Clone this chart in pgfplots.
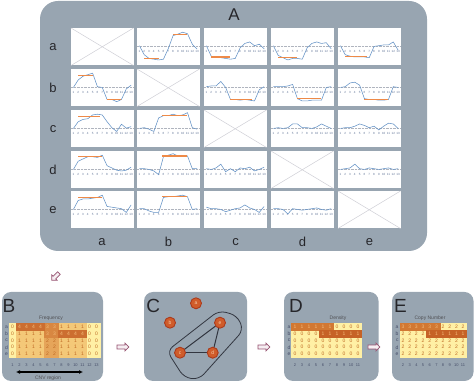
\documentclass[border=0pt]{standalone}
\usepackage{pgfplots}
\pgfplotsset{compat=1.18}
\usepackage{fontspec}
\setmainfont{Liberation Sans}
\usetikzlibrary{shapes.arrows,arrows.meta}

\definecolor{panelgray}{RGB}{152,165,177}
\definecolor{blueln}{RGB}{100,146,198}
\definecolor{orangeln}{RGB}{238,138,72}
\definecolor{basegray}{RGB}{175,180,190}
\definecolor{ticktxt}{RGB}{95,115,150}
\definecolor{xgray}{RGB}{205,205,212}
\definecolor{labtxt}{RGB}{38,38,42}
\definecolor{hmtick}{RGB}{70,78,105}
\definecolor{numdark}{RGB}{190,105,35}
\definecolor{numlight}{RGB}{242,185,120}
\definecolor{h0}{RGB}{255,240,165}
\definecolor{h1}{RGB}{244,200,120}
\definecolor{h2}{RGB}{230,165,90}
\definecolor{h3}{RGB}{216,135,65}
\definecolor{h4}{RGB}{204,110,48}
\definecolor{hor}{RGB}{210,120,50}
\definecolor{hdk}{RGB}{198,98,38}
\definecolor{nodefill}{RGB}{208,92,42}
\definecolor{noderim}{RGB}{170,58,28}
\definecolor{nodetxt}{RGB}{248,205,170}
\definecolor{arrowc}{RGB}{150,82,112}
\definecolor{arrowfill}{RGB}{246,238,242}
\definecolor{encl}{RGB}{50,54,64}

\pgfplotsset{
  /pgf/number format/assume math mode=true,
  cellax/.style={anchor=north west, scale only axis, width=62.5pt, height=37.5pt,
    xmin=0.5, xmax=13.5, ymin=-1.27, ymax=1.23,
    axis y line=none, axis x line=middle,
    x axis line style={draw=basegray, line width=0.4pt, densely dotted, -},
    xtick={1,...,13}, major tick length=0pt,
    xticklabel style={font=\fontsize{3}{3}\selectfont, text=ticktxt, inner sep=0.3pt, yshift=-3.3pt}},
  bl/.style={color=blueln, line width=0.55pt, mark=none},
  ol/.style={color=orangeln, line width=1.2pt, mark=none},
  hm/.style={anchor=north west, scale only axis, ymin=0.5, ymax=5.5, y dir=reverse,
    xmin=1.5, xmax=11.5, xtick={2,...,11},
    ytick={1,...,5}, yticklabels={a,b,c,d,e},
    axis line style={draw=none}, major tick length=0pt,
    xticklabel style={font=\fontsize{4}{4}\selectfont, text=hmtick, yshift=-2.5pt},
    yticklabel style={font=\fontsize{5}{5}\selectfont, text=hmtick, inner sep=1pt},
    clip=false},
}

% cell with a plot: #1 x, #2 top y, #3 blue coordinates, #4 orange plots
\newcommand{\cellplot}[4]{%
  \fill[white] (#1,#2) rectangle ++(62.5,-37.5);
  \begin{axis}[cellax, at={(#1pt,#2pt)}]
    \addplot[bl] coordinates {#3};
    #4
  \end{axis}}
\newcommand{\diagcell}[2]{%
  \fill[white] (#1,#2) rectangle ++(62.5,-37.5);
  \draw[xgray, line width=0.5pt] (#1,#2) -- ++(62.5,-37.5);
  \draw[xgray, line width=0.5pt] (#1,#2-37.5) -- ++(62.5,37.5);}
% heatmap cells of one value: #1 mark size, #2 fill, #3 text colour, #4 value, #5 cells (column,row)
\newcommand{\hmcls}[5]{%
  \addplot[only marks, mark=square*, mark size=#1, mark options={fill=#2, draw=#2, line width=0.2pt},
    nodes near coords={#4},
    every node near coord/.append style={anchor=center, font=\fontsize{5}{5}\selectfont, inner sep=0pt, text=#3}]
    coordinates {#5};}

\begin{document}
\begin{tikzpicture}[x=1pt,y=1pt]
\path[use as bounding box] (0,0) rectangle (474,382);

% ---------------- Panel A ----------------
\fill[panelgray, rounded corners=18pt] (40,131) rectangle (427,381);
\node[font=\fontsize{17}{17}\selectfont, text=labtxt] at (234,367.8) {A};
\foreach \l/\yy in {a/335.25, b/294.25, c/253.25, d/212.25, e/172.25}
  \node[font=\fontsize{13}{13}\selectfont, text=labtxt] at (53,\yy) {\l};
\foreach \l/\xx in {a/102, b/168.5, c/235.5, d/302.5, e/369.5}
  \node[font=\fontsize{13}{13}\selectfont, text=labtxt] at (\xx,140.3) {\l};

% row a
\diagcell{71}{354}
\cellplot{137}{354}{(1,0.05)(2,-0.55)(3,-0.8)(4,-0.85)(5,-0.9)(6,-0.85)(7,-0.15)(8,0.72)(9,0.82)(10,0.95)(11,0.85)(12,0.15)(13,-0.18)}
  {\addplot[ol] coordinates {(2,-0.78)(5,-0.78)}; \addplot[ol] coordinates {(8,0.8)(11,0.8)};}
\cellplot{204}{354}{(1,0.05)(2,-0.65)(3,-0.75)(4,-0.75)(5,-0.8)(6,-0.85)(7,-0.8)(8,-0.1)(9,0.2)(10,0.3)(11,0.05)(12,0.15)(13,-0.15)}
  {\addplot[ol] coordinates {(2,-0.7)(6,-0.7)};}
\cellplot{271}{354}{(1,0.05)(2,-0.6)(3,-0.75)(4,-0.9)(5,-0.8)(6,-0.8)(7,-0.85)(8,-0.1)(9,0.2)(10,0.3)(11,0.2)(12,0.25)(13,-0.15)}
  {\addplot[ol] coordinates {(2,-0.72)(6,-0.72)};}
\cellplot{338}{354}{(1,0.05)(2,-0.55)(3,-0.65)(4,-0.7)(5,-0.7)(6,-0.7)(7,-0.75)(8,0.0)(9,0.05)(10,0.1)(11,0.1)(12,0.3)(13,-0.25)}
  {\addplot[ol] coordinates {(2,-0.65)(6.5,-0.65)};}
% row b
\cellplot{71}{313}{(1,0.0)(2,0.5)(3,0.75)(4,0.85)(5,0.95)(6,0.05)(7,0.0)(8,-0.8)(9,-0.8)(10,-0.95)(11,-0.8)(12,-0.1)(13,0.15)}
  {\addplot[ol] coordinates {(2,0.82)(5,0.82)}; \addplot[ol] coordinates {(8,-0.82)(11,-0.82)};}
\diagcell{137}{313}
\cellplot{204}{313}{(1,0.05)(2,0.1)(3,0.1)(4,0.4)(5,0.0)(6,-0.8)(7,-0.8)(8,-0.85)(9,-0.8)(10,-0.85)(11,-0.9)(12,-0.15)(13,0.05)}
  {\addplot[ol] coordinates {(6,-0.8)(10.5,-0.8)};}
\cellplot{271}{313}{(1,0.05)(2,0.05)(3,0.05)(4,0.1)(5,0.2)(6,-0.75)(7,-0.9)(8,-0.9)(9,-0.85)(10,-0.85)(11,-0.85)(12,0.0)(13,0.05)}
  {\addplot[ol] coordinates {(6,-0.75)(11,-0.75)};}
\cellplot{338}{313}{(1,0.0)(2,0.05)(3,0.3)(4,0.35)(5,0.15)(6,-0.75)(7,-0.8)(8,-0.8)(9,-0.85)(10,-0.85)(11,-0.8)(12,0.05)(13,0.0)}
  {\addplot[ol] coordinates {(6,-0.78)(11,-0.78)};}
% row c
\cellplot{71}{272}{(1,0.0)(2,0.45)(3,0.6)(4,0.65)(5,0.9)(6,0.95)(7,0.9)(8,0.45)(9,0.05)(10,-0.2)(11,0.28)(12,0.02)(13,0.12)}
  {\addplot[ol] coordinates {(2,0.8)(6.5,0.8)};}
\cellplot{137}{272}{(1,0.0)(2,0.05)(3,-0.05)(4,-0.2)(5,0.7)(6,0.85)(7,0.85)(8,0.95)(9,0.85)(10,0.9)(11,1.05)(12,0.05)(13,-0.05)}
  {\addplot[ol] coordinates {(5.7,0.85)(11,0.85)};}
\diagcell{204}{272}
\cellplot{271}{272}{(1,0.0)(2,0.05)(3,0.0)(4,0.05)(5,0.3)(6,0.3)(7,0.05)(8,0.05)(9,0.0)(10,0.1)(11,0.3)(12,0.15)(13,0.0)}
  {}
\cellplot{338}{272}{(1,0.0)(2,0.05)(3,0.05)(4,0.15)(5,0.3)(6,0.2)(7,0.05)(8,0.15)(9,-0.1)(10,0.15)(11,0.35)(12,0.3)(13,0.0)}
  {}
% row d
\cellplot{71}{231}{(1,0.0)(2,0.55)(3,0.7)(4,0.85)(5,0.85)(6,0.8)(7,0.95)(8,0.25)(9,0.1)(10,-0.05)(11,-0.1)(12,-0.05)(13,0.15)}
  {\addplot[ol] coordinates {(2,0.85)(7,0.85)};}
\cellplot{137}{231}{(1,0.05)(2,0.05)(3,0.0)(4,-0.1)(5,-0.35)(6,0.85)(7,0.95)(8,1.05)(9,0.9)(10,0.9)(11,0.9)(12,0.05)(13,0.05)}
  {\addplot[ol] coordinates {(5.7,0.9)(11,0.9)};}
\cellplot{204}{231}{(1,0.05)(2,0.0)(3,0.1)(4,0.35)(5,-0.15)(6,0.05)(7,-0.15)(8,0.1)(9,0.05)(10,0.15)(11,-0.1)(12,0.0)(13,0.15)}
  {}
\diagcell{271}{231}
\cellplot{338}{231}{(1,0.0)(2,0.05)(3,0.1)(4,0.35)(5,0.05)(6,0.0)(7,0.1)(8,0.05)(9,0.0)(10,0.05)(11,0.1)(12,0.0)(13,0.05)}
  {}
% row e
\cellplot{71}{191}{(1,0.0)(2,0.6)(3,0.7)(4,0.7)(5,0.75)(6,0.8)(7,0.95)(8,0.2)(9,0.15)(10,0.1)(11,0.05)(12,-0.2)(13,0.3)}
  {\addplot[ol] coordinates {(2,0.8)(7,0.8)};}
\cellplot{137}{191}{(1,0.05)(2,0.05)(3,-0.1)(4,-0.2)(5,-0.2)(6,0.8)(7,0.85)(8,0.85)(9,0.9)(10,0.95)(11,0.85)(12,0.0)(13,0.05)}
  {\addplot[ol] coordinates {(5.7,0.85)(11,0.85)};}
\cellplot{204}{191}{(1,0.15)(2,0.05)(3,0.05)(4,0.0)(5,-0.15)(6,-0.05)(7,0.05)(8,0.1)(9,0.3)(10,0.1)(11,0.0)(12,-0.2)(13,0.2)}
  {}
\cellplot{271}{191}{(1,0.05)(2,0.05)(3,0.0)(4,-0.3)(5,0.05)(6,0.0)(7,-0.05)(8,0.0)(9,0.05)(10,0.1)(11,0.0)(12,-0.05)(13,0.05)}
  {}
\diagcell{338}{191}

% ---------------- bottom panel backgrounds ----------------
\fill[panelgray, rounded corners=9pt] (2,1) rectangle (103,90);
\fill[panelgray, rounded corners=9pt] (144,1) rectangle (247,90);
\fill[panelgray, rounded corners=9pt] (284,1) rectangle (378.5,90);
\fill[panelgray, rounded corners=9pt] (392,1) rectangle (473.5,90);
\foreach \l/\xx in {B/9, C/153.3, D/296, E/400.5}
  \node[font=\fontsize{19}{19}\selectfont, text=labtxt] at (\xx,76.5) {\l};

% arrows
\node[single arrow, draw=arrowc, fill=arrowfill, line width=0.7pt, minimum height=10pt, minimum width=7.5pt,
      inner sep=1.4pt, single arrow head extend=1.8pt, rotate=225] at (56,106) {};
\foreach \xx in {122,263,373}
  \node[single arrow, draw=arrowc, fill=arrowfill, line width=0.7pt, minimum height=12pt, minimum width=8pt,
        inner sep=1.5pt, single arrow head extend=2pt] at (\xx,35) {};

% ---------------- Panel B ----------------
\node[font=\fontsize{5}{5}\selectfont, text=labtxt!80] at (51,64) {Frequency};
\begin{axis}[hm, at={(9pt,58.4pt)}, width=91pt, height=33.75pt, xmin=0.5, xmax=13.5, xtick={1,...,13}]
\hmcls{3.5pt}{h0}{numdark}{0}{(1,1)(12,1)(13,1)(1,2)(12,2)(13,2)(1,3)(12,3)(13,3)(1,4)(12,4)(13,4)(1,5)(12,5)(13,5)}
\hmcls{3.5pt}{h1}{numdark}{1}{(8,1)(9,1)(10,1)(11,1)(2,2)(3,2)(4,2)(5,2)
  (2,3)(3,3)(4,3)(5,3)(8,3)(9,3)(10,3)(11,3)(2,4)(3,4)(4,4)(5,4)(8,4)(9,4)(10,4)(11,4)(2,5)(3,5)(4,5)(5,5)(8,5)(9,5)(10,5)(11,5)}
\hmcls{3.5pt}{h2}{numdark}{2}{(6,3)(7,3)(6,4)(7,4)(6,5)(7,5)}
\hmcls{3.5pt}{h3}{numlight}{3}{(6,1)(7,1)(6,2)(7,2)}
\hmcls{3.5pt}{h4}{numlight}{4}{(2,1)(3,1)(4,1)(5,1)(8,2)(9,2)(10,2)(11,2)}
\end{axis}
\draw[line width=1.1pt, {Latex[length=4pt,width=4pt]}-{Latex[length=4pt,width=4pt]}] (16,10) -- (83,10);
\node[font=\fontsize{5}{5}\selectfont, text=labtxt!80] at (48,4.2) {CNV region};

% ---------------- Panel C ----------------
\begin{axis}[at={(144pt,90pt)}, anchor=north west, scale only axis, width=103pt, height=89pt,
  xmin=144, xmax=247, ymin=292, ymax=381, y dir=reverse, hide axis, clip=false]
\draw[encl, line width=0.8pt, rounded corners=7pt] (167,351) -- (219,310.5) -- (237,315.5) -- (243.5,330) -- (199,379.5) -- (184,377.5) -- cycle;
\addplot[encl, line width=1pt, mark=none] coordinates {(180,352.7) (212.7,352.7)};
\addplot[encl, line width=1pt, mark=none] coordinates {(212.7,352.7) (220,322.7)};
\addplot[encl, line width=1pt, mark=none] coordinates {(220,322.7) (180,352.7)};
\addplot[only marks, mark=*, mark size=5.5pt, mark options={fill=nodefill, draw=noderim, line width=0.9pt},
  visualization depends on={value \thisrow{lab} \as \lab},
  nodes near coords={\lab},
  every node near coord/.append style={anchor=center, font=\fontsize{5}{5}\selectfont, text=nodetxt, inner sep=0pt}]
  table[row sep=\\] {x y lab\\ 196 303.3 a\\ 170 322.7 b\\ 180 352.7 c\\ 212.7 352.7 d\\ 220 322.7 e\\};
\end{axis}

% ---------------- Panel D ----------------
\node[font=\fontsize{5}{5}\selectfont, text=labtxt!80] at (338,64) {Density};
\begin{axis}[hm, at={(291.5pt,58.4pt)}, width=70pt, height=33.75pt]
\hmcls{3.5pt}{h0}{numdark}{0}{(8,1)(9,1)(10,1)(11,1)(2,2)(3,2)(4,2)(5,2)
  (2,3)(3,3)(4,3)(5,3)(6,3)(7,3)(8,3)(9,3)(10,3)(11,3)
  (2,4)(3,4)(4,4)(5,4)(6,4)(7,4)(8,4)(9,4)(10,4)(11,4)
  (2,5)(3,5)(4,5)(5,5)(6,5)(7,5)(8,5)(9,5)(10,5)(11,5)}
\hmcls{3.5pt}{hor}{numlight}{1}{(2,1)(3,1)(4,1)(5,1)(6,1)(7,1)}
\hmcls{3.5pt}{hdk}{numlight}{1}{(6,2)(7,2)(8,2)(9,2)(10,2)(11,2)}
\end{axis}

% ---------------- Panel E ----------------
\node[font=\fontsize{5}{5}\selectfont, text=labtxt!80] at (430,64) {Copy Number};
\begin{axis}[hm, at={(399.7pt,58.4pt)}, width=66.7pt, height=33.75pt]
\hmcls{3.4pt}{h0}{numdark}{2}{(8,1)(9,1)(10,1)(11,1)(2,2)(3,2)(4,2)(5,2)
  (2,3)(3,3)(4,3)(5,3)(6,3)(7,3)(8,3)(9,3)(10,3)(11,3)
  (2,4)(3,4)(4,4)(5,4)(6,4)(7,4)(8,4)(9,4)(10,4)(11,4)
  (2,5)(3,5)(4,5)(5,5)(6,5)(7,5)(8,5)(9,5)(10,5)(11,5)}
\hmcls{3.4pt}{hor}{numlight}{3}{(2,1)(3,1)(4,1)(5,1)(6,1)(7,1)}
\hmcls{3.4pt}{hdk}{numlight}{1}{(6,2)(7,2)(8,2)(9,2)(10,2)(11,2)}
\end{axis}
\end{tikzpicture}
\end{document}
